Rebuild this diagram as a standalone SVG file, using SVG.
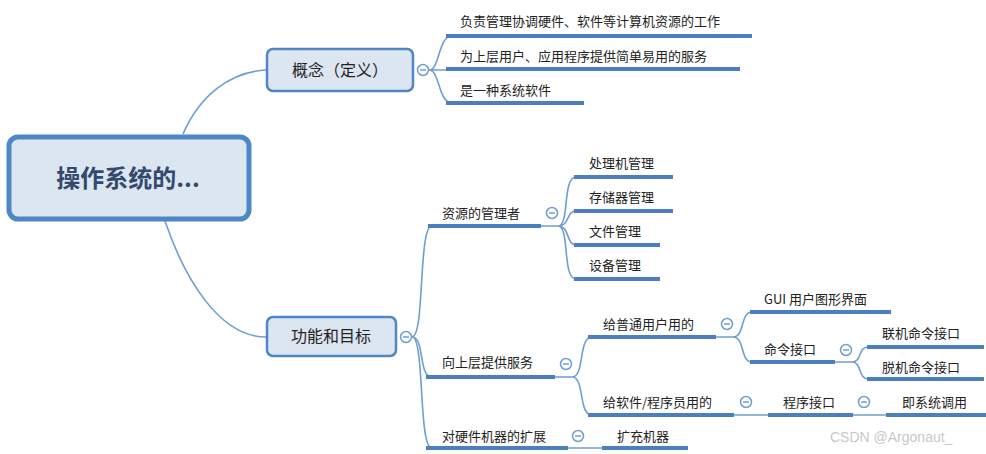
<svg xmlns="http://www.w3.org/2000/svg" width="986" height="454" viewBox="0 0 986 454">
<style>
text{font-family:"Noto Sans CJK SC","Liberation Sans",sans-serif;fill:#222;}
.t{font-size:13px;}
.c{fill:none;stroke:#6f9ed3;stroke-width:1.6;}
.u{stroke:#4c7fbf;stroke-width:4;}
.k{fill:#fff;stroke:#6f9ed3;stroke-width:1.5;}
.m{stroke:#6f9ed3;stroke-width:1.5;}
</style>
<rect width="986" height="454" fill="#fff"/>
<g id="connectors">
<path class="c" d="M183,134 C200,95 230,72 266,70"/>
<path class="c" d="M165,221 C185,280 220,337 266,337"/>
<path class="c" d="M429,70 C440,70 438,36 452,36 M429,70 H452 M429,70 C440,70 438,103 452,103"/>
<path class="c" d="M412,337 C425,337 418,226 432,226 M412,337 C425,337 418,377 432,377 M412,337 C425,337 418,448 432,448"/>
<path class="c" d="M541,226 H558 C570,226 562,177 576,177 M558,226 C570,226 566,211 576,211 M558,226 C570,226 566,245 576,245 M558,226 C570,226 562,279 576,279"/>
<path class="c" d="M555,377 H572 C585,377 578,337 592,337 M572,377 C585,377 578,415 592,415"/>
<path class="c" d="M716,337 H733 C745,337 740,312 752,312 M733,337 C745,337 740,362 752,362"/>
<path class="c" d="M835,362 H852 C862,362 858,347 868,347 M852,362 C862,362 858,379 868,379"/>
<path class="c" d="M734,415 H770 M853,415 H888 M568,448 H604"/>
</g>
<g id="root"><rect x="9" y="137" width="240" height="82" rx="9" fill="#dce6f1" stroke="#4f86c6" stroke-width="5"/>
<text x="128" y="187" text-anchor="middle" font-size="24" font-weight="bold" style="fill:#34496b">操作系统的...</text></g>
<g id="concept"><rect x="267" y="49" width="146" height="42" rx="6" fill="#dce6f1" stroke="#4f86c6" stroke-width="2.5"/>
<text x="340" y="76" text-anchor="middle" font-size="16">概念（定义）</text>
<circle class="k" cx="423" cy="70" r="5.5"/><path class="m" d="M420,70h6"/></g>
<g id="func"><rect x="267" y="317" width="129" height="39" rx="6" fill="#dce6f1" stroke="#4f86c6" stroke-width="2.5"/>
<text x="331" y="342" text-anchor="middle" font-size="16">功能和目标</text>
<circle class="k" cx="406" cy="337" r="5.5"/><path class="m" d="M403,337h6"/></g>
<g id="c1"><line class="u" x1="446" y1="36" x2="752" y2="36"/><text class="t" x="460" y="26">负责管理协调硬件、软件等计算机资源的工作</text></g>
<g id="c2"><line class="u" x1="446" y1="69" x2="740" y2="69"/><text class="t" x="460" y="61">为上层用户、应用程序提供简单易用的服务</text></g>
<g id="c3"><line class="u" x1="446" y1="103" x2="584" y2="103"/><text class="t" x="460" y="95">是一种系统软件</text></g>
<g id="res"><line class="u" x1="428" y1="226" x2="541" y2="226"/><text class="t" x="442" y="218">资源的管理者</text>
<circle class="k" cx="552" cy="213" r="5.5"/><path class="m" d="M549,213h6"/></g>
<g id="r1"><line class="u" x1="574" y1="177" x2="673" y2="177"/><text class="t" x="589" y="168">处理机管理</text></g>
<g id="r2"><line class="u" x1="574" y1="211" x2="673" y2="211"/><text class="t" x="589" y="202">存储器管理</text></g>
<g id="r3"><line class="u" x1="574" y1="245" x2="660" y2="245"/><text class="t" x="589" y="236">文件管理</text></g>
<g id="r4"><line class="u" x1="574" y1="279" x2="660" y2="279"/><text class="t" x="589" y="270">设备管理</text></g>
<g id="svc"><line class="u" x1="426" y1="377" x2="555" y2="377"/><text class="t" x="442" y="367">向上层提供服务</text>
<circle class="k" cx="566" cy="364" r="5.5"/><path class="m" d="M563,364h6"/></g>
<g id="u1"><line class="u" x1="588" y1="337" x2="716" y2="337"/><text class="t" x="603" y="329">给普通用户用的</text>
<circle class="k" cx="727" cy="324" r="5.5"/><path class="m" d="M724,324h6"/></g>
<g id="gui"><line class="u" x1="750" y1="312" x2="891" y2="312"/><text class="t" x="764" y="304">GUI 用户图形界面</text></g>
<g id="cmd"><line class="u" x1="750" y1="362" x2="835" y2="362"/><text class="t" x="764" y="354">命令接口</text>
<circle class="k" cx="846" cy="350" r="5.5"/><path class="m" d="M843,350h6"/></g>
<g id="on"><line class="u" x1="867" y1="347" x2="984" y2="347"/><text class="t" x="882" y="338">联机命令接口</text></g>
<g id="off"><line class="u" x1="867" y1="379" x2="984" y2="379"/><text class="t" x="882" y="372">脱机命令接口</text></g>
<g id="u2"><line class="u" x1="588" y1="415" x2="734" y2="415"/><text class="t" x="603" y="407">给软件/程序员用的</text>
<circle class="k" cx="746" cy="402" r="5.5"/><path class="m" d="M743,402h6"/></g>
<g id="api"><line class="u" x1="768" y1="415" x2="853" y2="415"/><text class="t" x="783" y="407">程序接口</text>
<circle class="k" cx="864" cy="402" r="5.5"/><path class="m" d="M861,402h6"/></g>
<g id="sys"><line class="u" x1="886" y1="415" x2="986" y2="415"/><text class="t" x="902" y="407">即系统调用</text></g>
<g id="ext"><line class="u" x1="426" y1="448" x2="568" y2="448"/><text class="t" x="442" y="441">对硬件机器的扩展</text>
<circle class="k" cx="578" cy="436" r="5.5"/><path class="m" d="M575,436h6"/></g>
<g id="ext1"><line class="u" x1="602" y1="448" x2="688" y2="448"/><text class="t" x="617" y="441">扩充机器</text></g>
<text x="830" y="442" font-size="14" style="fill:#c8c8c8;font-family:'Liberation Sans',sans-serif">CSDN @Argonaut_</text>
</svg>
